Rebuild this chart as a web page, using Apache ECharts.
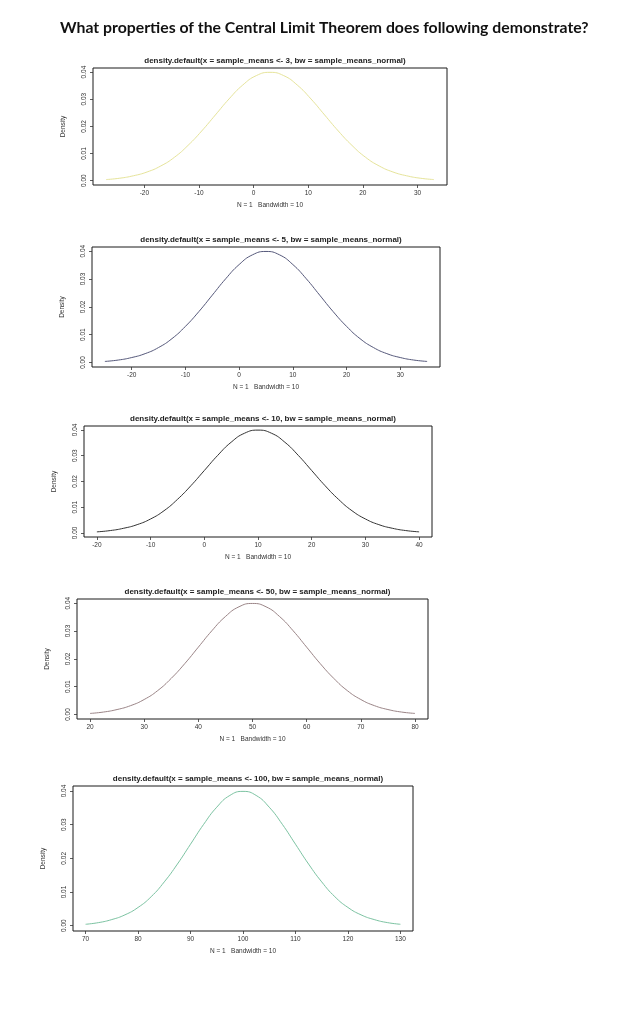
<!DOCTYPE html>
<html>
<head>
<meta charset="utf-8">
<script src="https://cdn.jsdelivr.net/npm/echarts@6/dist/echarts.min.js"></script>
<style>
html,body{margin:0;padding:0;background:#fff;}
#chart{width:633px;height:1024px;}
</style>
</head>
<body>
<div id="chart"></div>
<script>
// ---- data ----
const pageTitle = "What properties of the Central Limit Theorem does following demonstrate?";
const panelTitles = [
  "density.default(x = sample_means <- 3, bw = sample_means_normal)",
  "density.default(x = sample_means <- 5, bw = sample_means_normal)",
  "density.default(x = sample_means <- 10, bw = sample_means_normal)",
  "density.default(x = sample_means <- 50, bw = sample_means_normal)",
  "density.default(x = sample_means <- 100, bw = sample_means_normal)"
];
const xLabelText = "N = 1   Bandwidth = 10";
const yLabelText = "Density";

const x3   = [-27,-24.5,-22,-19.5,-17,-14.5,-12,-9.5,-7,-4.5,-2,0.5,3,5.5,8,10.5,13,15.5,18,20.5,23,25.5,28,30.5,33];
const x5   = [-25,-22.5,-20,-17.5,-15,-12.5,-10,-7.5,-5,-2.5,0,2.5,5,7.5,10,12.5,15,17.5,20,22.5,25,27.5,30,32.5,35];
const x10  = [-20,-17.5,-15,-12.5,-10,-7.5,-5,-2.5,0,2.5,5,7.5,10,12.5,15,17.5,20,22.5,25,27.5,30,32.5,35,37.5,40];
const x50  = [20,22.5,25,27.5,30,32.5,35,37.5,40,42.5,45,47.5,50,52.5,55,57.5,60,62.5,65,67.5,70,72.5,75,77.5,80];
const x100 = [70,72.5,75,77.5,80,82.5,85,87.5,90,92.5,95,97.5,100,102.5,105,107.5,110,112.5,115,117.5,120,122.5,125,127.5,130];

const dens3   = [0.0004,0.0009,0.0018,0.0032,0.0054,0.0086,0.0130,0.0183,0.0242,0.0301,0.0352,0.0387,0.0399,0.0387,0.0352,0.0301,0.0242,0.0183,0.0130,0.0086,0.0054,0.0032,0.0018,0.0009,0.0004];
const dens5   = [0.0004,0.0009,0.0018,0.0032,0.0054,0.0086,0.0130,0.0183,0.0242,0.0301,0.0352,0.0387,0.0399,0.0387,0.0352,0.0301,0.0242,0.0183,0.0130,0.0086,0.0054,0.0032,0.0018,0.0009,0.0004];
const dens10  = [0.0004,0.0009,0.0018,0.0032,0.0054,0.0086,0.0130,0.0183,0.0242,0.0301,0.0352,0.0387,0.0399,0.0387,0.0352,0.0301,0.0242,0.0183,0.0130,0.0086,0.0054,0.0032,0.0018,0.0009,0.0004];
const dens50  = [0.0004,0.0009,0.0018,0.0032,0.0054,0.0086,0.0130,0.0183,0.0242,0.0301,0.0352,0.0387,0.0399,0.0387,0.0352,0.0301,0.0242,0.0183,0.0130,0.0086,0.0054,0.0032,0.0018,0.0009,0.0004];
const dens100 = [0.0004,0.0009,0.0018,0.0032,0.0054,0.0086,0.0130,0.0183,0.0242,0.0301,0.0352,0.0387,0.0399,0.0387,0.0352,0.0301,0.0242,0.0183,0.0130,0.0086,0.0054,0.0032,0.0018,0.0009,0.0004];

const xTicks3   = [-20,-10,0,10,20,30];
const xTicks5   = [-20,-10,0,10,20,30];
const xTicks10  = [-20,-10,0,10,20,30,40];
const xTicks50  = [20,30,40,50,60,70,80];
const xTicks100 = [70,80,90,100,110,120,130];
const yTicks    = [0.00,0.01,0.02,0.03,0.04];

// ---- layout / style ----
const panels = [
  {x:x3,   y:dens3,   ticks:xTicks3,   range:[-29.4,35.4], grid:{left:93,top:68,width:354,height:117},  color:'#e6e49a', title:panelTitles[0]},
  {x:x5,   y:dens5,   ticks:xTicks5,   range:[-27.4,37.4], grid:{left:92,top:247,width:348,height:120}, color:'#55587a', title:panelTitles[1]},
  {x:x10,  y:dens10,  ticks:xTicks10,  range:[-22.4,42.4], grid:{left:84,top:426,width:348,height:111}, color:'#333333', title:panelTitles[2]},
  {x:x50,  y:dens50,  ticks:xTicks50,  range:[17.6,82.4],  grid:{left:77,top:599,width:351,height:120}, color:'#9a8486', title:panelTitles[3]},
  {x:x100, y:dens100, ticks:xTicks100, range:[67.6,132.4], grid:{left:73,top:786,width:340,height:145}, color:'#7cc3a2', title:panelTitles[4]}
];

const rFont = '"Liberation Sans", Arial, sans-serif';
const titles = [{
  text: pageTitle, left: 55, top: 15,
  textStyle:{fontFamily:'Lato, "Open Sans", sans-serif', fontWeight:'bold', fontSize:15.8, color:'#111'}
}];
const grids = [], xAxes = [], yAxes = [], series = [];
panels.forEach((p, i) => {
  titles.push({
    text: p.title,
    left: p.grid.left + p.grid.width/2, textAlign:'center',
    top: p.grid.top - 16,
    textStyle:{fontFamily:rFont, fontWeight:'bold', fontSize:8, color:'#222'}
  });
  grids.push(Object.assign({show:true, borderColor:'#1a1a1a', borderWidth:1, backgroundColor:'transparent'}, p.grid));
  xAxes.push({
    type:'value', gridIndex:i, min:p.range[0], max:p.range[1], position:'bottom',
    name: xLabelText, nameLocation:'middle', nameGap:17,
    nameTextStyle:{fontFamily:rFont, fontSize:6.5, color:'#333'},
    axisLine:{show:false, onZero:false},
    axisTick:{show:true, length:3, customValues:p.ticks, lineStyle:{color:'#333', width:0.8}},
    axisLabel:{customValues:p.ticks, fontFamily:rFont, fontSize:6.5, color:'#333', margin:5},
    splitLine:{show:false}
  });
  yAxes.push({
    type:'value', gridIndex:i, min:-0.0016, max:0.0415, position:'left',
    name: yLabelText, nameLocation:'middle', nameGap:26, nameRotate:90,
    nameTextStyle:{fontFamily:rFont, fontSize:6.5, color:'#333'},
    axisLine:{show:false, onZero:false},
    axisTick:{show:true, length:3, customValues:yTicks, lineStyle:{color:'#333', width:0.8}},
    axisLabel:{customValues:yTicks, rotate:90, fontFamily:rFont, fontSize:6.5, color:'#333', margin:5,
      formatter: v => v.toFixed(2)},
    splitLine:{show:false}
  });
  series.push({
    type:'line', xAxisIndex:i, yAxisIndex:i,
    data: p.x.map((xv, k) => [xv, p.y[k]]),
    smooth:true, showSymbol:false, symbol:'none',
    lineStyle:{color:p.color, width:1}, animation:false
  });
});

const chart = echarts.init(document.getElementById('chart'), null, {renderer:'canvas'});
chart.setOption({
  backgroundColor:'#ffffff',
  animation:false,
  title: titles,
  grid: grids,
  xAxis: xAxes,
  yAxis: yAxes,
  series: series
});
</script>
</body>
</html>
